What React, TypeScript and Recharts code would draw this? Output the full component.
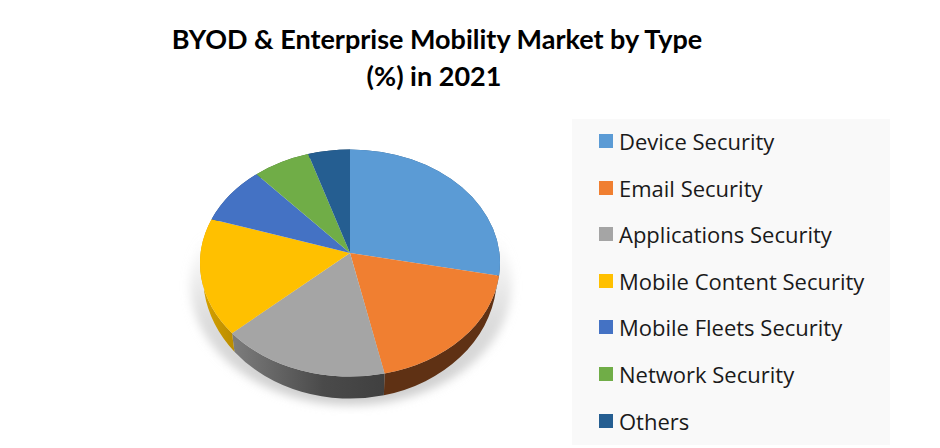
import React from "react";
import { PieChart, Pie, Legend } from "recharts";

const types = [
  "Device Security",
  "Email Security",
  "Applications Security",
  "Mobile Content Security",
  "Mobile Fleets Security",
  "Network Security",
  "Others",
];
const shares = [26.8, 19.5, 18.1, 16.9, 8.0, 6.2, 4.5];
const topColors = ["#5b9bd5", "#f07f31", "#a5a5a5", "#ffc000", "#4472c4", "#70ad47", "#255e91"];
const sideColors = ["#2f5f8a", "#5f3114", "url(#graySide)", "url(#yellowSide)", "#2a4a80", "#44702a", "#173a5a"];

const data = types.map((name, i) => ({
  name,
  value: shares[i],
  fill: topColors[i],
  side: sideColors[i],
}));

// the pie is tilted, so the sectors go on ellipses instead of circles
const TOP_RY = 0.757;
const APEX_SHIFT = -10;
const BOTTOM_RX = 0.98;
const BOTTOM_RY = 0.817;
const BOTTOM_SHIFT = 13;

const onEllipse = (cx: number, cy: number, rx: number, ry: number, angle: number) => {
  const t = ((90 - angle) * Math.PI) / 180;
  return [cx + rx * Math.sin(t), cy - ry * Math.cos(t)];
};

const TopSector = (props: any) => {
  const { cx, cy, outerRadius, startAngle, endAngle, fill } = props;
  const ry = outerRadius * TOP_RY;
  const [x1, y1] = onEllipse(cx, cy, outerRadius, ry, startAngle);
  const [x2, y2] = onEllipse(cx, cy, outerRadius, ry, endAngle);
  const large = Math.abs(endAngle - startAngle) > 180 ? 1 : 0;
  const d = `M${cx},${cy + APEX_SHIFT} L${x1},${y1} A${outerRadius},${ry} 0 ${large} 1 ${x2},${y2} Z`;
  return <path d={d} fill={fill} />;
};

const SideSector = (props: any) => {
  const { cx, cy, outerRadius, startAngle, endAngle, payload } = props;
  const ry = outerRadius * TOP_RY;
  const rx2 = outerRadius * BOTTOM_RX;
  const ry2 = outerRadius * BOTTOM_RY;
  const cy2 = cy + BOTTOM_SHIFT;
  const [x1, y1] = onEllipse(cx, cy, outerRadius, ry, startAngle);
  const [x2, y2] = onEllipse(cx, cy, outerRadius, ry, endAngle);
  const [x3, y3] = onEllipse(cx, cy2, rx2, ry2, endAngle);
  const [x4, y4] = onEllipse(cx, cy2, rx2, ry2, startAngle);
  const d =
    `M${x1},${y1} A${outerRadius},${ry} 0 0 1 ${x2},${y2} ` +
    `L${x3},${y3} A${rx2},${ry2} 0 0 0 ${x4},${y4} Z`;
  return <path d={d} fill={payload.side} />;
};

const LegendBox = ({ payload }: any) => {
  // two Pie series feed the legend, keep one entry per type, in data order
  const entries = types.map((name) => (payload || []).find((p: any) => p.value === name)).filter(Boolean);
  return (
    <div
      style={{
        width: 318,
        height: 326,
        background: "#f9f9f9",
        position: "relative",
      }}
    >
      {entries.map((entry: any, i: number) => (
        <div
          key={entry.value}
          style={{
            position: "absolute",
            left: 27,
            top: 7 + i * 46.6,
            height: 30,
            display: "flex",
            alignItems: "center",
            fontFamily: "'Open Sans'",
            fontSize: 22,
            color: "#1a1a1a",
            whiteSpace: "nowrap",
          }}
        >
          <span style={{ width: 14, height: 14, background: entry.color, marginRight: 6 }} />
          {entry.value}
        </div>
      ))}
    </div>
  );
};

const App: React.FC = () => {
  return (
    <div style={{ position: "absolute", left: 0, top: 0, width: 940, height: 448, background: "#fff", overflow: "hidden" }}>
      <div
        style={{
          position: "absolute",
          left: 137,
          top: 20,
          width: 600,
          textAlign: "center",
          fontFamily: "Lato",
          fontWeight: 700,
          fontSize: 27,
          lineHeight: "37px",
          color: "#000",
        }}
      >
        BYOD &amp; Enterprise Mobility Market by Type
        <br />
        <span style={{ position: "relative", left: -3 }}>(%) in 2021</span>
      </div>
      <PieChart
        width={940}
        height={448}
        margin={{ top: 0, right: 0, bottom: 0, left: 0 }}
        style={{ position: "absolute", left: 0, top: 0 }}
      >
        <defs>
          <linearGradient id="graySide" gradientUnits="userSpaceOnUse" x1="232" y1="0" x2="384" y2="0">
            <stop offset="0" stopColor="#7d7d7d" />
            <stop offset="0.6" stopColor="#4a4a4a" />
            <stop offset="1" stopColor="#404040" />
          </linearGradient>
          <linearGradient id="yellowSide" gradientUnits="userSpaceOnUse" x1="200" y1="0" x2="235" y2="0">
            <stop offset="0" stopColor="#d9a300" />
            <stop offset="1" stopColor="#b98c00" />
          </linearGradient>
          <linearGradient id="shadowFade" x1="0" y1="0" x2="0" y2="1">
            <stop offset="0.3" stopColor="#d4d4d4" stopOpacity="0" />
            <stop offset="0.65" stopColor="#d4d4d4" stopOpacity="0.8" />
            <stop offset="1" stopColor="#cccccc" />
          </linearGradient>
          <filter id="soft" x="-10%" y="-10%" width="120%" height="120%">
            <feGaussianBlur stdDeviation="5" />
          </filter>
        </defs>
        <ellipse cx={351} cy={284} rx={161} ry={121} fill="url(#shadowFade)" filter="url(#soft)" />
        <Pie
          data={data}
          dataKey="value"
          nameKey="name"
          cx={350}
          cy={263}
          outerRadius={150}
          startAngle={90}
          endAngle={-270}
          stroke="none"
          legendType="none"
          shape={SideSector}
          isAnimationActive={false}
        />
        <Pie
          data={data}
          dataKey="value"
          nameKey="name"
          cx={350}
          cy={263}
          outerRadius={150}
          startAngle={90}
          endAngle={-270}
          stroke="none"
          shape={TopSector}
          isAnimationActive={false}
        />
        <Legend
          content={<LegendBox />}
          layout="vertical"
          wrapperStyle={{ position: "absolute", left: 572, top: 119, width: 318, height: 326 }}
        />
      </PieChart>
    </div>
  );
};

export default App;
